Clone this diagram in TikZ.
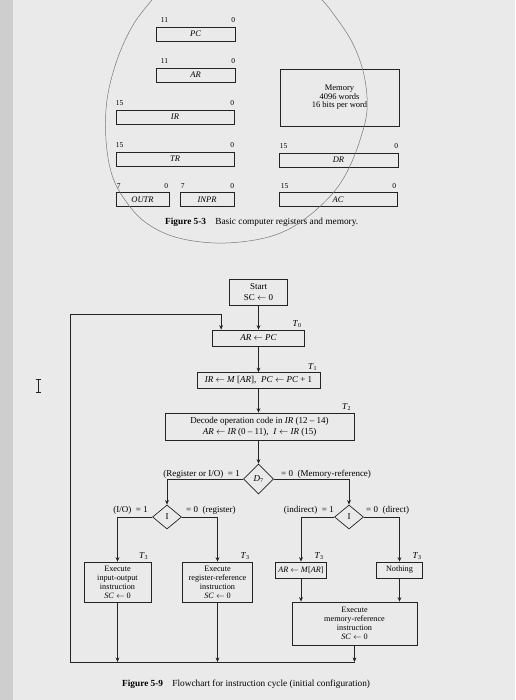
\documentclass[tikz,border=0pt]{standalone}
\usepackage{fontspec}
\setmainfont{Liberation Serif}
\usetikzlibrary{arrows.meta,shapes.geometric,calc}
\definecolor{pagebg}{RGB}{233,234,233}
\definecolor{edgebg}{RGB}{205,206,205}
\definecolor{ink}{RGB}{35,35,35}
\definecolor{pencil}{RGB}{120,120,125}
\begin{document}
\begin{tikzpicture}[x=1pt,y=-1pt,
  reg/.style={draw=ink,line width=0.7pt,inner sep=0pt,minimum height=14pt,font=\fontsize{8.5}{9}\selectfont\itshape},
  bit/.style={inner sep=0pt,font=\fontsize{7.5}{8}\selectfont},
  fbox/.style={draw=ink,line width=0.7pt,inner sep=0pt,align=center,font=\fontsize{9}{11}\selectfont},
  xbox/.style={fbox,font=\fontsize{8.2}{9}\selectfont},
  dia/.style={diamond,draw=ink,line width=0.7pt,inner sep=0pt,font=\fontsize{9}{10}\selectfont},
  lbl/.style={inner sep=0pt,font=\fontsize{9}{10}\selectfont},
  tlab/.style={inner sep=0pt,font=\fontsize{9}{10}\selectfont,anchor=base east},
  flow/.style={draw=ink,line width=0.7pt},
  arr/.style={flow,-{Stealth[length=4.5pt,width=3.8pt]}},
  figcap/.style={inner sep=0pt,font=\fontsize{9.3}{10}\selectfont,anchor=base west},
  pencilline/.style={draw=pencil,line width=0.5pt}
]
\useasboundingbox (0,0) rectangle (515,700);
\fill[pagebg] (0,0) rectangle (515,700);
\fill[edgebg] (0,0) rectangle (13,700);

% ---------------- Figure 5-3 ----------------
\node[reg,minimum width=79pt] (pc) at (195.5,34) {PC};
\node[reg,minimum width=79pt] (ar) at (195.5,75) {AR};
\node[reg,minimum width=118pt] (ir) at (175,117) {IR};
\node[reg,minimum width=118pt] (tr) at (175,159) {TR};
\node[reg,minimum width=53pt] (outr) at (142.5,199.5) {OUTR};
\node[reg,minimum width=54pt] (inpr) at (207,199.5) {INPR};
\node[reg,minimum width=119pt,minimum height=57pt,font=\fontsize{8.5}{8.4}\selectfont,align=center] (mem) at (339.5,97.5) {Memory\\4096 words\\16 bits per word};
\node[reg,minimum width=119pt] (dr) at (338.5,160) {DR};
\node[reg,minimum width=118pt] (ac) at (338,199.5) {AC};

\node[bit,anchor=base west] (pc11) at ([shift={(5,-4)}]pc.north west) {11};
\node[bit,anchor=base east] (pc0) at ([shift={(0,-4)}]pc.north east) {0};
\node[bit,anchor=base west] (ar11) at ([shift={(5,-4)}]ar.north west) {11};
\node[bit,anchor=base east] (ar0) at ([shift={(0,-4)}]ar.north east) {0};
\node[bit,anchor=base west] (ir15) at ([shift={(0,-4)}]ir.north west) {15};
\node[bit,anchor=base east] (ir0) at ([shift={(0,-4)}]ir.north east) {0};
\node[bit,anchor=base west] (tr15) at ([shift={(0,-4)}]tr.north west) {15};
\node[bit,anchor=base east] (tr0) at ([shift={(0,-4)}]tr.north east) {0};
\node[bit,anchor=base west] (outr7) at ([shift={(1,-4)}]outr.north west) {7};
\node[bit,anchor=base east] (outr0) at ([shift={(-1,-4)}]outr.north east) {0};
\node[bit,anchor=base west] (inpr7) at ([shift={(1,-4)}]inpr.north west) {7};
\node[bit,anchor=base east] (inpr0) at ([shift={(0,-4)}]inpr.north east) {0};
\node[bit,anchor=base west] (dr15) at ([shift={(1,-4)}]dr.north west) {15};
\node[bit,anchor=base east] (dr0) at ([shift={(0,-4)}]dr.north east) {0};
\node[bit,anchor=base west] (ac15) at ([shift={(2,-4)}]ac.north west) {15};
\node[bit,anchor=base east] (ac0) at ([shift={(-1,-4)}]ac.north east) {0};

\node[figcap] (cap3) at (165,225) {\textbf{Figure 5-3}\quad Basic computer registers and memory.};

% pencil loop
\draw[pencilline] plot[smooth,tension=0.6] coordinates {(152,0) (133,25) (117,60) (107,100) (106,140) (112,175) (125,200) (145,222) (175,237) (215,243) (255,240) (285,231) (310,215) (333,193) (348,170) (360,140) (367,110) (364,75) (352,42) (332,12) (322,0)};

% cursor
\draw[ink,line width=0.6pt] (38,379) -- (38,392) (35.5,379) -- (40.5,379) (35.5,392) -- (40.5,392);

% ---------------- Figure 5-9 ----------------
\node[fbox,minimum width=58pt,minimum height=26pt] (start) at (258.5,292) {Start\\SC $\leftarrow$ 0};
\node[fbox,minimum width=92pt,minimum height=16pt] (arpc) at (258.5,338) {\textit{AR} $\leftarrow$ \textit{PC}};
\node[fbox,minimum width=123pt,minimum height=16pt] (irm) at (258.5,380.5) {\textit{IR} $\leftarrow$ \textit{M} [\textit{AR}],\; \textit{PC} $\leftarrow$ \textit{PC} + 1};
\node[fbox,minimum width=189pt,minimum height=27pt] (dec) at (259.5,426.5) {Decode operation code in \textit{IR} (12 -- 14)\\\textit{AR} $\leftarrow$ \textit{IR} (0 -- 11),\; \textit{I} $\leftarrow$ \textit{IR} (15)};
\node[dia,minimum width=30pt,minimum height=30pt] (d7) at (258.5,479) {\textit{D}\textsubscript{7}};
\node[dia,minimum width=29pt,minimum height=24pt] (i1) at (167,517) {I};
\node[dia,minimum width=29pt,minimum height=24pt] (i2) at (349,517) {I};
\node[xbox,minimum width=67pt,minimum height=40pt] (exio) at (117.5,582) {Execute\\input-output\\instruction\\\textit{SC} $\leftarrow$ 0};
\node[xbox,minimum width=70pt,minimum height=40pt] (exrr) at (217.5,582) {Execute\\register-reference\\instruction\\\textit{SC} $\leftarrow$ 0};
\node[xbox,minimum width=51pt,minimum height=16pt] (armar) at (301,570) {\textit{AR} $\leftarrow$ \textit{M}[\textit{AR}]};
\node[xbox,minimum width=46pt,minimum height=16pt] (noth) at (399.5,570) {Nothing};
\node[xbox,minimum width=125pt,minimum height=43pt] (exmr) at (354.5,623.5) {Execute\\memory-reference\\instruction\\\textit{SC} $\leftarrow$ 0};

% timing labels
\node[tlab] (t0) at ([shift={(-3,-3)}]arpc.north east) {\textit{T}\textsubscript{0}};
\node[tlab] (t1) at ([shift={(-3,-3)}]irm.north east) {\textit{T}\textsubscript{1}};
\node[tlab] (t2) at ([shift={(-3,-3)}]dec.north east) {\textit{T}\textsubscript{2}};
\node[tlab] (t3a) at ([shift={(-3,-3)}]exio.north east) {\textit{T}\textsubscript{3}};
\node[tlab] (t3b) at ([shift={(-3,-3)}]exrr.north east) {\textit{T}\textsubscript{3}};
\node[tlab] (t3c) at ([shift={(-3,-3)}]armar.north east) {\textit{T}\textsubscript{3}};
\node[tlab] (t3d) at ([shift={(-1,-3)}]noth.north east) {\textit{T}\textsubscript{3}};

% branch labels
\node[lbl,anchor=base east] (l1) at (240,476) {(Register or I/O)~~= 1};
\node[lbl,anchor=base west] (l2) at (281,476) {= 0~~(Memory-reference)};
\node[lbl,anchor=base east] (l3) at (148,512) {(I/O)~~= 1};
\node[lbl,anchor=base west] (l4) at (186,512) {= 0~~(register)};
\node[lbl,anchor=base east] (l5) at (334,512) {(indirect)~~= 1};
\node[lbl,anchor=base west] (l6) at (366,512) {= 0~~(direct)};

% connectors
\draw[arr] (start.south) -- (arpc.north);
\draw[arr] (arpc.south) -- (irm.north);
\draw[arr] (irm.south) -- (dec.north -| irm.south);
\draw[arr] (dec.south -| d7.north) -- (d7.north);
\draw[arr] (d7.west) -| (i1.north);
\draw[arr] (d7.east) -| (i2.north);
\draw[arr] (i1.west) -| (exio.north);
\draw[arr] (i1.east) -| (exrr.north);
\draw[arr] (i2.west) -| (armar.north);
\draw[arr] (i2.east) -| (noth.north);
\draw[arr] (armar.south) -- (armar.south |- exmr.north);
\draw[arr] (noth.south) -- (noth.south |- exmr.north);

\coordinate (bl) at (70,662);
\coordinate (tl) at (70,314);
\coordinate (in) at ($(arpc.north west)+(9,0)$);
\draw[arr] (exio.south) -- (exio.south |- bl);
\draw[arr] (exrr.south) -- (exrr.south |- bl);
\draw[arr] (exmr.south) -- (exmr.south |- bl);
\draw[flow] (exmr.south |- bl) -- (bl);
\draw[arr] (bl) -- (tl) -- (tl -| in) -- (in);

\node[figcap] (cap9) at (122,686) {\textbf{Figure 5-9}\quad Flowchart for instruction cycle (initial configuration)};
\end{tikzpicture}
\end{document}
